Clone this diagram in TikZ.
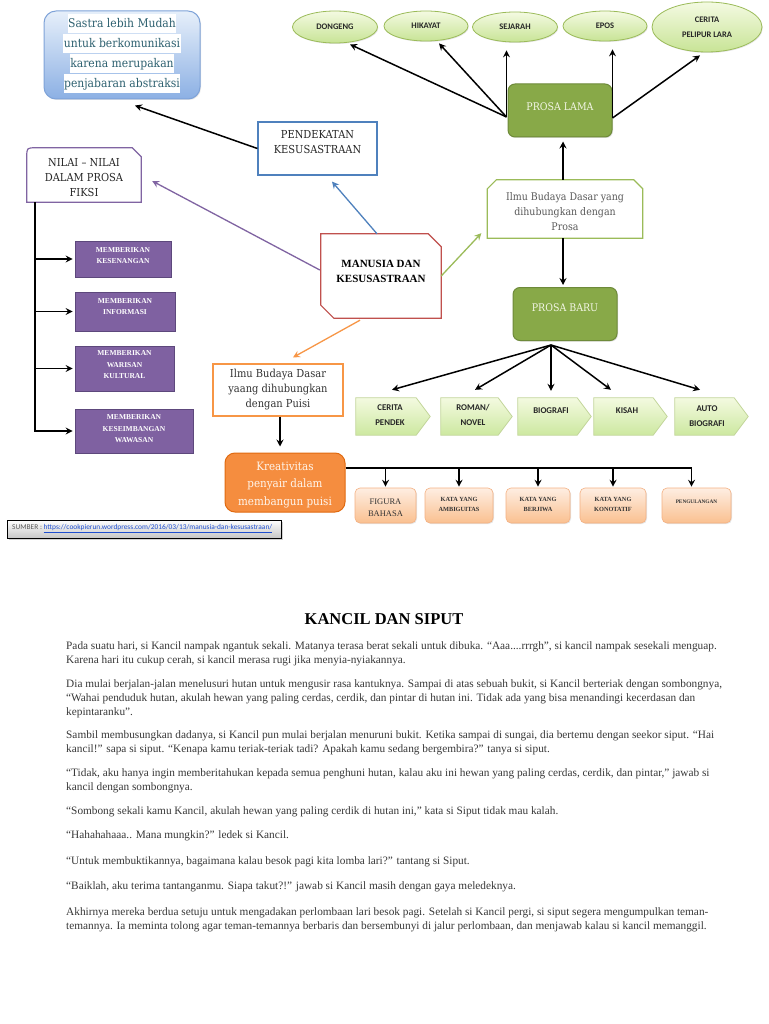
\documentclass[tikz,border=0pt]{standalone}
\usepackage{fontspec}
\setmainfont{Liberation Serif}
\newfontfamily\camb[FakeStretch=0.9]{DejaVu Serif}
\newfontfamily\calib{Carlito}
\usetikzlibrary{arrows.meta,shapes.geometric,calc,shadows}
\pgfdeclarelayer{bg}
\pgfsetlayers{bg,main}
\definecolor{elB}{HTML}{9BBB59}
\definecolor{elT}{HTML}{F4FAE2}
\definecolor{elBo}{HTML}{C8E496}
\definecolor{plF}{HTML}{88A948}
\definecolor{plD}{HTML}{6E8A3A}
\definecolor{plT}{HTML}{F3F6E6}
\definecolor{purF}{HTML}{7F61A1}
\definecolor{purD}{HTML}{5D487C}
\definecolor{nilB}{HTML}{8064A2}
\definecolor{manB}{HTML}{C0504D}
\definecolor{penB}{HTML}{4F81BD}
\definecolor{orB}{HTML}{F79646}
\definecolor{krF}{HTML}{F58D3F}
\definecolor{krD}{HTML}{E06A10}
\definecolor{bxT}{HTML}{FEEEE2}
\definecolor{bxB}{HTML}{FAC090}
\definecolor{bxD}{HTML}{F4B183}
\definecolor{pnT}{HTML}{F3FAE0}
\definecolor{pnB}{HTML}{CDE8A0}
\definecolor{pnD}{HTML}{C3D69B}
\definecolor{saT}{HTML}{E6EFFA}
\definecolor{saB}{HTML}{8CB0E4}
\definecolor{saD}{HTML}{7FA3D8}
\definecolor{saTx}{HTML}{2E6170}
\definecolor{bodyC}{HTML}{383838}
\definecolor{linkB}{HTML}{1F4FD0}
\newcommand\hlw[1]{{\setlength{\fboxsep}{0.5pt}\colorbox{white}{\strut #1}}}
\newcommand\drawpent[1]{\shadedraw[top color=pnT, bottom color=pnB, draw=pnD, line width=0.8pt] (#1.north west) -- ($(#1.north east)+(-14,0)$) -- (#1.east) -- ($(#1.south east)+(-14,0)$) -- (#1.south west) -- cycle;}
\tikzset{
  arr/.style={line width=1.5pt, draw=black, -{Stealth[length=7pt,width=7pt,inset=2.5pt]}},
  carr/.style={line width=1.3pt, -{Stealth[length=7pt,width=7pt,inset=2.5pt]}},
  hole/.style={rectangle, draw=none, inner sep=0pt},
  ell/.style={ellipse, draw=elB, line width=0.8pt, top color=elT, bottom color=elBo, inner sep=0pt, font=\calib\bfseries\fontsize{8.5}{15}\selectfont, text=black!85, align=center, drop shadow={opacity=0.2, shadow xshift=0.8pt, shadow yshift=-1pt}},
  prosa/.style={rectangle, rounded corners=7pt, fill=plF, draw=plD, line width=1pt, inner sep=0pt, minimum width=104pt, minimum height=53pt, drop shadow={opacity=0.25, shadow xshift=1pt, shadow yshift=-1pt}},
  ptext/.style={font=\camb\fontsize{10.5}{13}\selectfont, text=plT, inner sep=0pt},
  purbox/.style={rectangle, fill=purF, draw=purD, line width=0.8pt, inner sep=0pt, drop shadow={opacity=0.3, shadow xshift=1pt, shadow yshift=-1pt}},
  purtext/.style={font=\bfseries\fontsize{7.5}{11.5}\selectfont, text=white, align=center, inner sep=0pt},
  ctext/.style={font=\camb\fontsize{11}{15}\selectfont, align=center, inner sep=0pt},
  pentext/.style={font=\calib\bfseries\fontsize{8.8}{14.5}\selectfont, text=black!85, align=center, inner sep=0pt},
  obox/.style={rectangle, rounded corners=5pt, top color=bxT, bottom color=bxB, draw=bxD, line width=0.6pt, inner sep=0pt, minimum height=35pt, drop shadow={opacity=0.2, shadow xshift=1pt, shadow yshift=-1pt}},
  otext/.style={font=\bfseries\fontsize{6.3}{10}\selectfont, text=black!80, align=center, inner sep=0pt},
  bodyline/.style={anchor=base west, inner sep=0pt, font=\fontsize{11.3}{13}\selectfont, text=bodyC}
}
\begin{document}
\begin{tikzpicture}[x=1pt,y=-1pt]
\useasboundingbox (0,0) rectangle (768,1024);
\begin{pgfonlayer}{bg}
\fill[white] (0,0) rectangle (768,1024);
\end{pgfonlayer}

% ---------- Sastra box
\node[hole, rounded corners=12pt, top color=saT, bottom color=saB, draw=saD, line width=1pt, minimum width=156pt, minimum height=88pt, drop shadow={opacity=0.2, shadow xshift=1pt, shadow yshift=-1pt}] (SA) at (122,55) {};
\node[ctext, font=\camb\fontsize{12}{18}\selectfont, text=saTx] (SAt) at (122,54) {\hlw{Sastra lebih Mudah}\\\hlw{untuk berkomunikasi}\\\hlw{karena merupakan}\\\hlw{penjabaran abstraksi}};

% ---------- ellipses
\node[ell, minimum width=85pt, minimum height=32pt] (DG) at (335,27) {DONGENG};
\node[ell, minimum width=84pt, minimum height=30pt] (HK) at (426,26) {HIKAYAT};
\node[ell, minimum width=85pt, minimum height=30pt] (SJ) at (515,27) {SEJARAH};
\node[ell, minimum width=84pt, minimum height=30pt] (EP) at (605,26) {EPOS};
\node[ell, minimum width=110pt, minimum height=50pt] (CPL) at (707,27) {CERITA\\PELIPUR LARA};

% ---------- prosa lama / baru
\node[prosa] (PL) at (560,110.5) {};
\node[ptext] (PLt) at (560,107) {PROSA LAMA};
\node[prosa] (PB) at (565,314) {};
\node[ptext] (PBt) at (565,308) {PROSA BARU};

% ---------- pendekatan
\node[hole, draw=penB, line width=1.2pt, fill=white, minimum width=119pt, minimum height=53pt] (PK) at (317.5,148.5) {};
\node[ctext, font=\camb\fontsize{11}{15}\selectfont, text=black!85] (PKt) at (317.5,142.5) {PENDEKATAN\\KESUSASTRAAN};

% ---------- nilai
\node[hole, minimum width=114pt, minimum height=54pt] (NI) at (84,175) {};
\begin{pgfonlayer}{bg}
\draw[nilB, line width=1.2pt, fill=white] (NI.south west) -- ($(NI.north west)+(0,9)$) .. controls (NI.north west) .. ($(NI.north west)+(9,0)$) -- ($(NI.north east)+(-9,0)$) -- ($(NI.north east)+(0,9)$) -- (NI.south east) -- cycle;
\end{pgfonlayer}
\node[ctext, font=\camb\fontsize{11}{15}\selectfont, text=black!85] (NIt) at (84,178) {NILAI – NILAI\\DALAM PROSA\\FIKSI};

% ---------- purple boxes
\node[purbox, minimum width=96pt, minimum height=36pt] (P1) at (123,259) {};
\node[purtext] (P1t) at (123,255.5) {MEMBERIKAN\\KESENANGAN};
\node[purbox, minimum width=100pt, minimum height=39pt] (P2) at (125,311.5) {};
\node[purtext] (P2t) at (125,306.5) {MEMBERIKAN\\INFORMASI};
\node[purbox, minimum width=99pt, minimum height=45pt] (P3) at (124.5,368.5) {};
\node[purtext] (P3t) at (124.5,365) {MEMBERIKAN\\WARISAN\\KULTURAL};
\node[purbox, minimum width=118pt, minimum height=44pt] (P4) at (134,431) {};
\node[purtext] (P4t) at (134,429) {MEMBERIKAN\\KESEIMBANGAN\\WAWASAN};

% ---------- manusia
\node[hole, minimum width=120pt, minimum height=84pt] (MA) at (381,276) {};
\begin{pgfonlayer}{bg}
\draw[manB, line width=1.2pt, fill=white] (MA.north west) -- ($(MA.north east)+(-13,0)$) -- ($(MA.north east)+(0,13)$) -- (MA.south east) -- ($(MA.south west)+(13,0)$) -- ($(MA.south west)+(0,-13)$) -- cycle;
\end{pgfonlayer}
\node[ctext, font=\bfseries\fontsize{11}{15}\selectfont, text=black] (MAt) at (381,271) {MANUSIA DAN\\KESUSASTRAAN};

% ---------- ilmu prosa
\node[hole, minimum width=155pt, minimum height=58pt] (IP) at (565,209) {};
\begin{pgfonlayer}{bg}
\draw[elB, line width=1.2pt, fill=white] ($(IP.north west)+(0,9)$) -- ($(IP.north west)+(9,0)$) -- ($(IP.north east)+(-9,0)$) -- ($(IP.north east)+(0,9)$) -- (IP.south east) -- (IP.south west) -- cycle;
\end{pgfonlayer}
\node[ctext, font=\camb\fontsize{10.5}{15}\selectfont, text=black!65] (IPt) at (565,212) {Ilmu Budaya Dasar yang\\dihubungkan dengan\\Prosa};

% ---------- pentagons
\node[hole, minimum width=74pt, minimum height=37pt] (CP) at (393,416.5) {};
\node[hole, minimum width=71pt, minimum height=37pt] (RN) at (476.5,416.5) {};
\node[hole, minimum width=73pt, minimum height=37pt] (BI) at (554.5,416.5) {};
\node[hole, minimum width=73pt, minimum height=37pt] (KI) at (630.5,416.5) {};
\node[hole, minimum width=73pt, minimum height=37pt] (AB) at (711.5,416.5) {};
\begin{pgfonlayer}{bg}
\drawpent{CP}\drawpent{RN}\drawpent{BI}\drawpent{KI}\drawpent{AB}
\end{pgfonlayer}
\node[pentext] (CPt) at (390,415) {CERITA\\PENDEK};
\node[pentext] (RNt) at (473,415) {ROMAN/\\NOVEL};
\node[pentext] (BIt) at (551,411) {BIOGRAFI};
\node[pentext] (KIt) at (627,411) {KISAH};
\node[pentext] (ABt) at (707,416) {AUTO\\BIOGRAFI};

% ---------- puisi
\node[hole, draw=orB, line width=1.2pt, fill=white, minimum width=130pt, minimum height=52pt] (PU) at (278,390) {};
\node[ctext, font=\camb\fontsize{11}{15}\selectfont, text=black!80] (PUt) at (278,390) {Ilmu Budaya Dasar\\yaang dihubungkan\\dengan Puisi};

% ---------- kreativitas
\node[hole, rounded corners=10pt, fill=krF, draw=krD, line width=1pt, minimum width=120pt, minimum height=59pt] (KR) at (285,482.5) {};
\node[ctext, font=\camb\fontsize{11.5}{17.5}\selectfont, text=white!92!orange] (KRt) at (285,485) {Kreativitas\\penyair dalam\\membangun puisi};

% ---------- orange small boxes
\node[obox, minimum width=61pt] (FB) at (385.5,505.5) {};
\node[obox, minimum width=68pt] (KA) at (459,505.5) {};
\node[obox, minimum width=64pt] (KB) at (538,505.5) {};
\node[obox, minimum width=66pt] (KK) at (613,505.5) {};
\node[obox, minimum width=69pt] (PG) at (696.5,505.5) {};
\node[otext, font=\fontsize{8.5}{12}\selectfont] (FBt) at (385.5,508) {FIGURA\\BAHASA};
\node[otext] (KAt) at (459,504) {KATA YANG\\AMBIGUITAS};
\node[otext] (KBt) at (538,504) {KATA YANG\\BERJIWA};
\node[otext] (KKt) at (613,504) {KATA YANG\\KONOTATIF};
\node[otext, font=\bfseries\fontsize{5.3}{8}\selectfont] (PGt) at (696.5,502) {PENGULANGAN};

% ---------- sumber
\node[hole, minimum width=274pt, minimum height=18pt, top color=white, bottom color=black!22, draw=black, line width=0.8pt, drop shadow={opacity=0.35, shadow xshift=1.5pt, shadow yshift=-1.5pt}] (SB) at (144,529) {};
\node[anchor=west, inner sep=0pt, font=\calib\fontsize{7.4}{8}\selectfont] (SBt) at (12,529) {\textcolor{black!65}{SUMBER : }\textcolor{linkB}{\underline{https://cookpierun.wordpress.com/2016/03/13/manusia-dan-kesusastraan/}}};

% ---------- connectors
\draw[arr] (PK.west) -- ($(SA.south)+(13,6)$);
\coordinate (plL) at ($(PL.west)+(-1,6.5)$);
\coordinate (plR) at ($(PL.east)+(0,7.5)$);
\draw[arr] (plL) -- ($(DG.south)+(15,1)$);
\draw[arr] (plL) -- ($(HK.south)+(13,2)$);
\draw[arr] (plL) -- ($(plL |- SJ.south)+(0,8)$);
\draw[arr] (plR) -- ($(plR |- EP.south)+(0,8)$);
\draw[arr] (plR) -- ($(CPL.south)+(-7,3)$);
\draw[arr] ($(IP.north)+(-2,0)$) -- ($(PL.south)+(3,4)$);
\draw[carr, penB] ($(MA.north)+(-4,0)$) -- ($(PK.south)+(14.5,6)$);
\draw[carr, nilB] ($(MA.west)+(-1,-6)$) -- ($(NI.east)+(11,6)$);
\draw[carr, elB] (MA.east) -- ($(IP.south west)+(-6,-5)$);
\draw[carr, orB] ($(MA.south)+(-21,2)$) -- ($(PU.north)+(15,-6)$);
\draw[arr] ($(IP.south)+(-2,0)$) -- ($(PB.north)+(-2,-2)$);
\coordinate (pbo) at ($(PB.south)+(-14,4)$);
\draw[arr] (pbo) -- ($(CP.north)+(-1,-8)$);
\draw[arr] (pbo) -- ($(RN.north)+(-1.5,-8)$);
\draw[arr] (pbo) -- ($(BI.north)+(-3.5,-7)$);
\draw[arr] (pbo) -- ($(KI.north)+(-19.5,-8)$);
\draw[arr] (pbo) -- ($(AB.north)+(-11.5,-8)$);
\draw[arr] ($(PU.south)+(2,0)$) -- ($(KR.north)+(-5,-6)$);
\coordinate (kr0) at ($(KR.east)+(0,-14.5)$);
\draw[line width=1.5pt] (kr0) -- ($(kr0 -| PG.north)+(-4.25,0)$);
\draw[arr] (kr0 -| FB.north) -- ($(FB.north)+(0,-1)$);
\draw[arr] (kr0 -| KA.north) -- ($(KA.north)+(0,-1)$);
\draw[arr] (kr0 -| KB.north) -- ($(KB.north)+(0,-1)$);
\draw[arr] (kr0 -| KK.north) -- ($(KK.north)+(0,-1)$);
\draw[arr] ($(kr0 -| PG.north)+(-5,0)$) -- ($(PG.north)+(-5,-1)$);
\coordinate (nv) at ($(NI.south west)+(8,0)$);
\draw[arr] (nv |- P1.west) -- ($(P1.west)+(-2,0)$);
\draw[arr] (nv |- P2.west) -- ($(P2.west)+(-2,0)$);
\draw[arr] (nv |- P3.west) -- ($(P3.west)+(-2,0)$);
\draw[arr] (nv) |- ($(P4.west)+(-2,0)$);

% ---------- story
\node[anchor=base, inner sep=0pt, font=\bfseries\fontsize{16.5}{20}\selectfont] (TT) at (384,624) {KANCIL DAN SIPUT};
\node[bodyline] (L1) at (66,649) {Pada suatu hari, si Kancil nampak ngantuk sekali. Matanya terasa berat sekali untuk dibuka. “Aaa....rrrgh”, si kancil nampak sesekali menguap.};
\node[bodyline] (L2) at (66,663) {Karena hari itu cukup cerah, si kancil merasa rugi jika menyia-nyiakannya.};
\node[bodyline] (L3) at (66,687) {Dia mulai berjalan-jalan menelusuri hutan untuk mengusir rasa kantuknya. Sampai di atas sebuah bukit, si Kancil berteriak dengan sombongnya,};
\node[bodyline] (L4) at (66,701) {“Wahai penduduk hutan, akulah hewan yang paling cerdas, cerdik, dan pintar di hutan ini. Tidak ada yang bisa menandingi kecerdasan dan};
\node[bodyline] (L5) at (66,715) {kepintaranku”.};
\node[bodyline] (L6) at (66,738) {Sambil membusungkan dadanya, si Kancil pun mulai berjalan menuruni bukit. Ketika sampai di sungai, dia bertemu dengan seekor siput. “Hai};
\node[bodyline] (L7) at (66,752) {kancil!” sapa si siput. “Kenapa kamu teriak-teriak tadi? Apakah kamu sedang bergembira?” tanya si siput.};
\node[bodyline] (L8) at (66,776) {“Tidak, aku hanya ingin memberitahukan kepada semua penghuni hutan, kalau aku ini hewan yang paling cerdas, cerdik, dan pintar,” jawab si};
\node[bodyline] (L9) at (66,790) {kancil dengan sombongnya.};
\node[bodyline] (L10) at (66,814) {“Sombong sekali kamu Kancil, akulah hewan yang paling cerdik di hutan ini,” kata si Siput tidak mau kalah.};
\node[bodyline] (L11) at (66,838) {“Hahahahaaa.. Mana mungkin?” ledek si Kancil.};
\node[bodyline] (L12) at (66,864) {“Untuk membuktikannya, bagaimana kalau besok pagi kita lomba lari?” tantang si Siput.};
\node[bodyline] (L13) at (66,889) {“Baiklah, aku terima tantanganmu. Siapa takut?!” jawab si Kancil masih dengan gaya meledeknya.};
\node[bodyline] (L14) at (66,915) {Akhirnya mereka berdua setuju untuk mengadakan perlombaan lari besok pagi. Setelah si Kancil pergi, si siput segera mengumpulkan teman-};
\node[bodyline] (L15) at (66,929) {temannya. Ia meminta tolong agar teman-temannya berbaris dan bersembunyi di jalur perlombaan, dan menjawab kalau si kancil memanggil.};
\end{tikzpicture}
\end{document}
